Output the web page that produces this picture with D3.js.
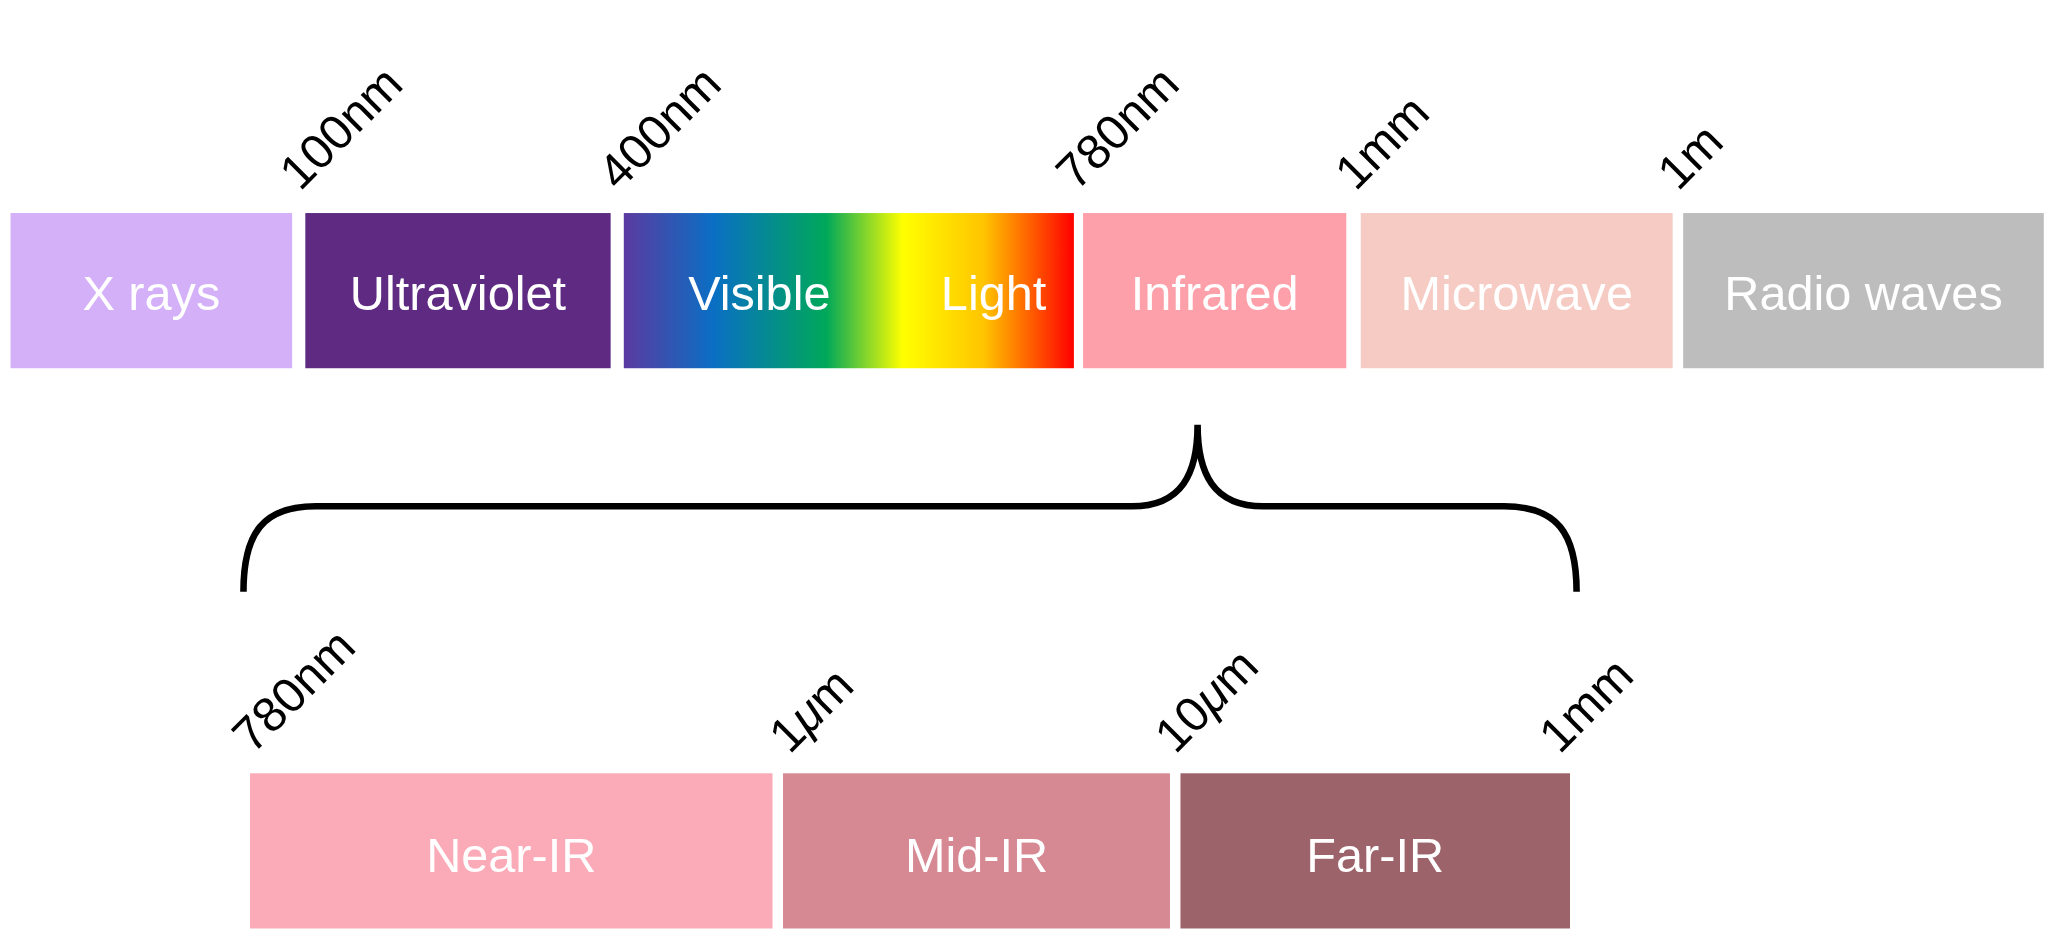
<!DOCTYPE html>
<html lang="en">
<head>
<meta charset="UTF-8"/>
<title>Electromagnetic spectrum</title>
<script src="https://d3js.org/d3.v7.min.js"></script>
<style>
  body { margin: 0; background: #fff; }
  text { font-family: "Liberation Sans", Arial, sans-serif; }
</style>
</head>
<body>
<script>
    // top row: band names, start/end on the picture's axis, colours
    var bands = ["X rays", "Ultraviolet", "Visible", "Infrared", "Microwave", "Radio waves"];
    var bandStart = [8, 232, 474, 823, 1034, 1279];
    var bandEnd = [222, 464, 816, 1023, 1271, 1553];
    var bandColors = ["#d4b0f8", "#5e2a82", "url(#visGrad)", "#fda0aa", "#f6cbc4", "#bdbdbd"];
    var topTicks = ["100nm", "400nm", "780nm", "1mm", "1m"];
    var topTickPos = [228, 470, 818, 1030, 1275];

    // bottom row: infrared sub-bands
    var irBands = ["Near-IR", "Mid-IR", "Far-IR"];
    var irStart = [190, 595, 897];
    var irEnd = [587, 889, 1193];
    var irColors = ["#fbaab7", "#d68893", "#9d636a"];
    var irTicks = ["780nm", "1μm", "10μm", "1mm"];
    var irTickPos = [192, 600, 893, 1185];

    var W = 2053, H = 939;
    var x = d3.scaleLinear().domain([0, 1560]).range([0, W]);
    var y = d3.scaleLinear().domain([0, 714]).range([0, H]);

    var svg = d3.select("body").append("svg").attr("width", W).attr("height", H);

    var grad = svg.append("defs").append("linearGradient").attr("id", "visGrad");
    [[0, "#5b3aa0"], [0.2, "#0a6fc4"], [0.45, "#00a85a"], [0.62, "#ffff00"], [0.8, "#ffc400"], [1, "#ff0000"]]
        .forEach(function (s) { grad.append("stop").attr("offset", s[0]).attr("stop-color", s[1]); });

    var fs = y(37);

    // top bars
    svg.selectAll("rect.top").data(bands).enter().append("rect")
        .attr("x", function (d, i) { return x(bandStart[i]); })
        .attr("width", function (d, i) { return x(bandEnd[i]) - x(bandStart[i]); })
        .attr("y", y(162)).attr("height", y(280) - y(162))
        .attr("fill", function (d, i) { return bandColors[i]; });

    svg.selectAll("text.top").data(bands).enter().append("text")
        .filter(function (d) { return d !== "Visible"; })
        .attr("x", function (d) { var i = bands.indexOf(d); return x((bandStart[i] + bandEnd[i]) / 2); })
        .attr("y", y(236)).attr("text-anchor", "middle")
        .attr("font-size", fs).attr("fill", "#fff").text(function (d) { return d; });
    svg.append("text").attr("x", x(577)).attr("y", y(236)).attr("text-anchor", "middle")
        .attr("font-size", fs).attr("fill", "#fff").text("Visible");
    svg.append("text").attr("x", x(755)).attr("y", y(236)).attr("text-anchor", "middle")
        .attr("font-size", fs).attr("fill", "#fff").text("Light");

    // rotated tick labels
    function ticks(labels, pos, baseY) {
        svg.append("g").selectAll("text").data(labels).enter().append("text")
            .attr("transform", function (d, i) {
                return "translate(" + x(pos[i]) + "," + y(baseY) + ") rotate(-45)";
            })
            .attr("font-size", fs).attr("fill", "#000")
            .html(function (d) { return d.replace("μ", "<tspan font-style='italic'>μ</tspan>"); });
    }
    ticks(topTicks, topTickPos, 146);

    // brace
    var brace = d3.path();
    brace.moveTo(x(185), y(450));
    brace.bezierCurveTo(x(185), y(405), x(200), y(385), x(240), y(385));
    brace.lineTo(x(860), y(385));
    brace.bezierCurveTo(x(898), y(385), x(910), y(360), x(910), y(323));
    brace.bezierCurveTo(x(910), y(360), x(922), y(385), x(960), y(385));
    brace.lineTo(x(1143), y(385));
    brace.bezierCurveTo(x(1183), y(385), x(1198), y(405), x(1198), y(450));
    svg.append("path").attr("d", brace.toString()).attr("fill", "none")
        .attr("stroke", "#000").attr("stroke-width", y(5));

    // bottom bars
    svg.selectAll("rect.ir").data(irBands).enter().append("rect")
        .attr("x", function (d, i) { return x(irStart[i]); })
        .attr("width", function (d, i) { return x(irEnd[i]) - x(irStart[i]); })
        .attr("y", y(588)).attr("height", y(706) - y(588))
        .attr("fill", function (d, i) { return irColors[i]; });
    svg.selectAll("text.ir").data(irBands).enter().append("text")
        .attr("x", function (d, i) { return x((irStart[i] + irEnd[i]) / 2); })
        .attr("y", y(663)).attr("text-anchor", "middle")
        .attr("font-size", fs).attr("fill", "#fff").text(function (d) { return d; });

    ticks(irTicks, irTickPos, 574);
</script>
</body>
</html>
